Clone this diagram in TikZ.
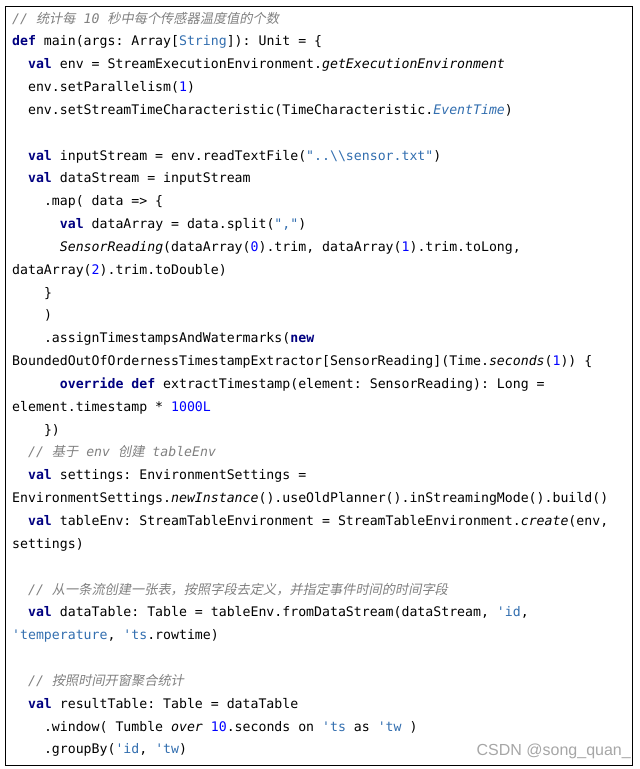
\documentclass[tikz,border=0pt]{standalone}
\usepackage{fontspec}
\setmonofont{DejaVu Sans Mono}
\newfontfamily\cjk[FakeSlant=0.2]{Noto Sans CJK SC}
\newfontfamily\wmfont{Liberation Sans}
\definecolor{kwc}{RGB}{0,0,128}
\definecolor{numc}{RGB}{0,0,255}
\definecolor{strc}{RGB}{50,110,175}
\definecolor{cmtc}{RGB}{128,128,128}
\newcommand\kw[1]{{\bfseries\color{kwc}#1}}
\newcommand\nm[1]{{\color{numc}#1}}
\newcommand\stc[1]{{\color{strc}#1}}
\newcommand\itc[1]{{\itshape #1}}
\newcommand\cmt[1]{{\color{cmtc}\itshape #1}}
\newcommand\ch[1]{{\cjk #1}}
\tikzset{ln/.style={anchor=base west,inner sep=0pt,font=\ttfamily\fontsize{13.2}{15}\selectfont}}
\begin{document}
\begin{tikzpicture}[x=1pt,y=-1pt]
\useasboundingbox (0,0) rectangle (640,769);
\draw[line width=1pt] (5,6) rectangle (632,765);
\def\L{22.84}
\def\X{12}
\def\I{7.95}
\node[ln] (l1) at (\X,23) {\cmt{// \ch{统计每} 10 \ch{秒中每个传感器温度值的个数}}};
\node[ln] (l2) at (\X,23+\L) {\kw{def} main(args: Array[\stc{String}]): Unit = \{};
\node[ln] (l3) at (\X+2*\I,23+2*\L) {\kw{val} env = StreamExecutionEnvironment.\itc{getExecutionEnvironment}};
\node[ln] (l4) at (\X+2*\I,23+3*\L) {env.setParallelism(\nm{1})};
\node[ln] (l5) at (\X+2*\I,23+4*\L) {env.setStreamTimeCharacteristic(TimeCharacteristic.\stc{\itshape EventTime})};
\node[ln] (l7) at (\X+2*\I,23+6*\L) {\kw{val} inputStream = env.readTextFile(\stc{"..\textbackslash\textbackslash sensor.txt"})};
\node[ln] (l8) at (\X+2*\I,23+7*\L) {\kw{val} dataStream = inputStream};
\node[ln] (l9) at (\X+4*\I,23+8*\L) {.map( data => \{};
\node[ln] (l10) at (\X+6*\I,23+9*\L) {\kw{val} dataArray = data.split(\stc{","})};
\node[ln] (l11) at (\X+6*\I,23+10*\L) {\itc{SensorReading}(dataArray(\nm{0}).trim, dataArray(\nm{1}).trim.toLong,};
\node[ln] (l12) at (\X,23+11*\L) {dataArray(\nm{2}).trim.toDouble)};
\node[ln] (l13) at (\X+4*\I,23+12*\L) {\}};
\node[ln] (l14) at (\X+4*\I,23+13*\L) {)};
\node[ln] (l15) at (\X+4*\I,23+14*\L) {.assignTimestampsAndWatermarks(\kw{new}};
\node[ln] (l16) at (\X,23+15*\L) {BoundedOutOfOrdernessTimestampExtractor[SensorReading](Time.\itc{seconds}(\nm{1})) \{};
\node[ln] (l17) at (\X+6*\I,23+16*\L) {\kw{override def} extractTimestamp(element: SensorReading): Long =};
\node[ln] (l18) at (\X,23+17*\L) {element.timestamp * \nm{1000L}};
\node[ln] (l19) at (\X+4*\I,23+18*\L) {\})};
\node[ln] (l20) at (\X+2*\I,23+19*\L) {\cmt{// \ch{基于} env \ch{创建} tableEnv}};
\node[ln] (l21) at (\X+2*\I,23+20*\L) {\kw{val} settings: EnvironmentSettings =};
\node[ln] (l22) at (\X,23+21*\L) {EnvironmentSettings.\itc{newInstance}().useOldPlanner().inStreamingMode().build()};
\node[ln] (l23) at (\X+2*\I,23+22*\L) {\kw{val} tableEnv: StreamTableEnvironment = StreamTableEnvironment.\itc{create}(env,};
\node[ln] (l24) at (\X,23+23*\L) {settings)};
\node[ln] (l26) at (\X+2*\I,23+25*\L) {\cmt{// \ch{从一条流创建一张表，按照字段去定义，并指定事件时间的时间字段}}};
\node[ln] (l27) at (\X+2*\I,23+26*\L) {\kw{val} dataTable: Table = tableEnv.fromDataStream(dataStream, \stc{'id},};
\node[ln] (l28) at (\X,23+27*\L) {\stc{'temperature}, \stc{'ts}.rowtime)};
\node[ln] (l30) at (\X+2*\I,23+29*\L) {\cmt{// \ch{按照时间开窗聚合统计}}};
\node[ln] (l31) at (\X+2*\I,23+30*\L) {\kw{val} resultTable: Table = dataTable};
\node[ln] (l32) at (\X+4*\I,23+31*\L) {.window( Tumble \itc{over} \nm{10}.seconds on \stc{'ts} as \stc{'tw} )};
\node[ln] (l33) at (\X+4*\I,23+32*\L) {.groupBy(\stc{'id}, \stc{'tw})};
\node[anchor=base east,inner sep=0pt,font=\wmfont\fontsize{16}{18}\selectfont,text=black!35] (wm) at (631,755) {CSDN @song\_quan\_};
\end{tikzpicture}
\end{document}
